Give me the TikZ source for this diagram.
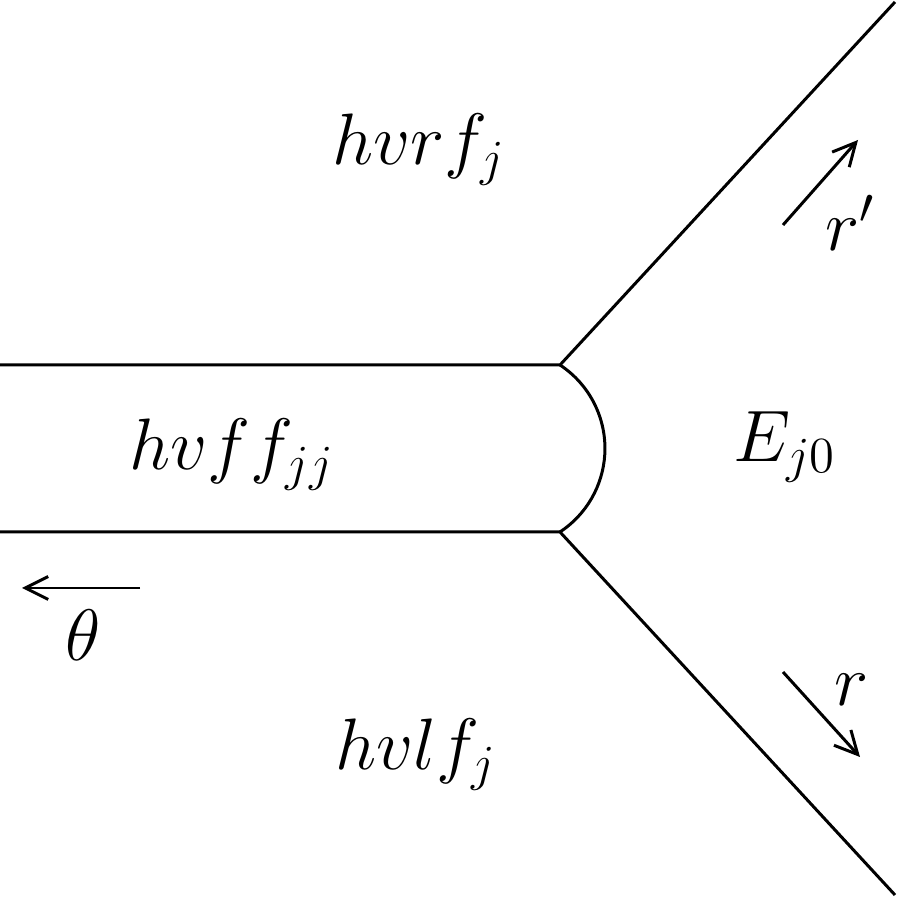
\documentclass[tikz,border=0pt]{standalone}
\usetikzlibrary{arrows.meta}
\begin{document}
\begin{tikzpicture}[line width=0.85pt,
  lbl/.style={inner sep=0pt,font=\fontsize{21}{25}\selectfont},
  arr/.style={-{Straight Barb[length=6.5pt,width=6.5pt]}}]
\useasboundingbox (0,0) rectangle (8.97,8.98);
% main shapes
\coordinate (tl) at (0,5.33);
\coordinate (tj) at (5.60,5.33);
\coordinate (bl) at (0,3.66);
\coordinate (bj) at (5.60,3.66);
\coordinate (tr) at (8.95,8.96);
\coordinate (br) at (8.95,0.03);
\draw (tl) -- (tj) -- (tr);
\draw (bl) -- (bj) -- (br);
\draw (tj) arc[start angle=56.6,end angle=-56.6,radius=1.0];
% labels
\node[lbl,anchor=base] (hvrf) at (4.19,7.33) {$hvrf_j$};
\node[lbl,anchor=base] (hvff) at (2.32,4.28) {$hvff_{jj}$};
\node[lbl,anchor=base] (ej) at (7.85,4.36) {$E_{j0}$};
\node[lbl,anchor=base] (hvlf) at (4.16,1.28) {$hvlf_j$};
\node[lbl] (theta) at (0.83,2.63) {$\theta$};
\node[lbl] (rp) at (8.50,6.75) {$r'$};
\node[lbl] (r) at (8.52,2.08) {$r$};
% small arrows
\coordinate (ta) at (1.40,3.10);
\coordinate (tb) at (0.22,3.10);
\coordinate (rpa) at (7.83,6.73);
\coordinate (rpb) at (8.58,7.58);
\coordinate (ra) at (7.83,2.26);
\coordinate (rb) at (8.60,1.41);
\draw[arr] (ta) -- (tb);
\draw[arr] (rpa) -- (rpb);
\draw[arr] (ra) -- (rb);
\end{tikzpicture}
\end{document}
